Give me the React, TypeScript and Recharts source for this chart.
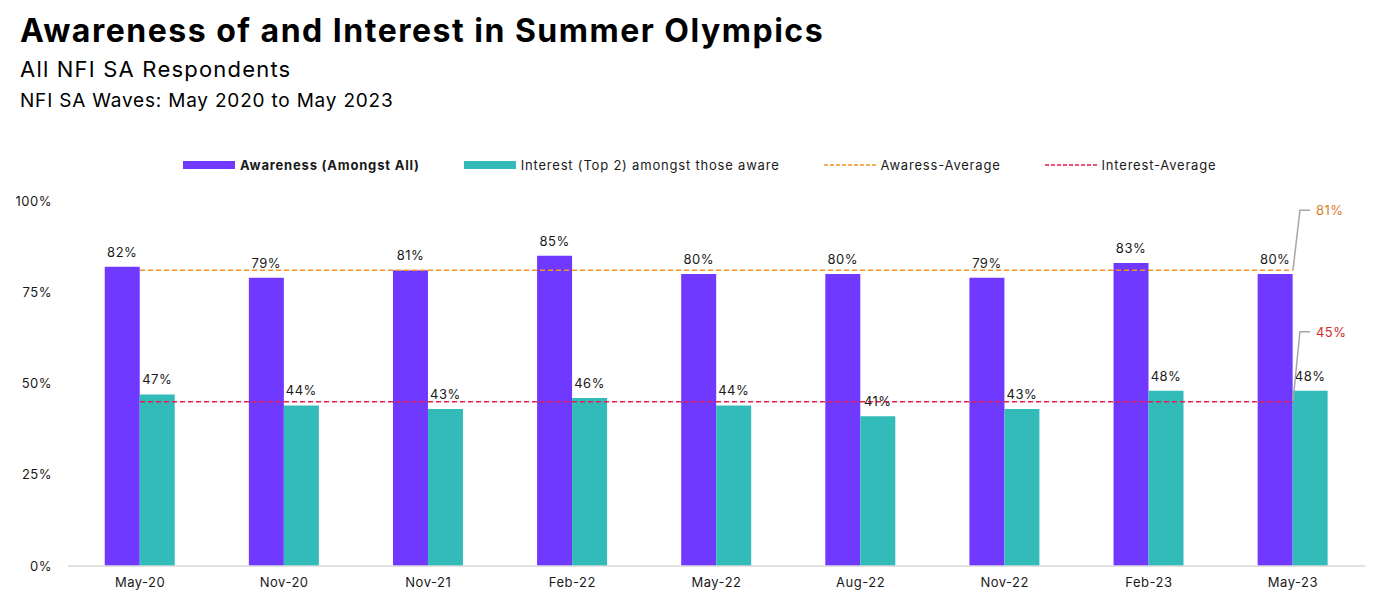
import { ComposedChart, Bar, Line, XAxis, YAxis, LabelList } from 'recharts';

const waves = ['May-20', 'Nov-20', 'Nov-21', 'Feb-22', 'May-22', 'Aug-22', 'Nov-22', 'Feb-23', 'May-23'];
const awareness = [82, 79, 81, 85, 80, 80, 79, 83, 80];
const interest = [47, 44, 43, 46, 44, 41, 43, 48, 48];
const awarenessAvg = 81;
const interestAvg = 45;
const yTicks = [0, 25, 50, 75, 100];

const colors = {
    purple: '#7039FF',
    teal: '#33BBB9',
    orange: '#F7941D',
    red: '#EE1A4F',
    orangeText: '#D9822B',
    redText: '#D42A2A',
    axis: '#D9D9D9',
    text: '#1a1a1a',
};

const font = 'Inter, "Noto Sans", sans-serif';
const tickStyle = { fill: colors.text, fontSize: 13, fontFamily: font, letterSpacing: 0.5 };

const data = waves.map((w, i) => ({
    wave: w,
    awareness: awareness[i],
    interest: interest[i],
    awarenessAvg,
    interestAvg,
}));

// leader line + value for the last point of an average line
const AvgLabel = (color: string, rise: number) => (props: any) => {
    const { x, y, index, value } = props;
    if (index !== data.length - 1) return null;
    const ex = x + 7;
    const ey = y - rise;
    return (
        <g>
            <polyline points={`${x},${y} ${ex},${ey} ${ex + 10},${ey}`} fill="none" stroke="#A6A6A6" strokeWidth={1.5} />
            <text x={ex + 16} y={ey} dy={5} fill={color} fontSize={13} fontFamily={font} letterSpacing={0.5}>{value}%</text>
        </g>
    );
};

const legendItems = [
    { label: 'Awareness (Amongst All)', color: colors.purple, kind: 'rect', bold: true },
    { label: 'Interest (Top 2) amongst those aware', color: colors.teal, kind: 'rect', bold: false },
    { label: 'Awaress-Average', color: colors.orange, kind: 'dash', bold: false },
    { label: 'Interest-Average', color: colors.red, kind: 'dash', bold: false },
];

const Legend = () => (
    <div style={{ position: 'absolute', left: 183, top: 156, display: 'flex', alignItems: 'center', fontFamily: font, fontSize: 13, letterSpacing: 0.8, color: colors.text, whiteSpace: 'nowrap' }}>
        {legendItems.map((it) => (
            <div key={it.label} style={{ display: 'flex', alignItems: 'center', marginRight: 44 }}>
                <svg width={52} height={18} style={{ marginRight: 5 }}>
                    {it.kind === 'rect'
                        ? <rect x={0} y={5} width={52} height={8} fill={it.color} />
                        : <line x1={0} y1={9} x2={52} y2={9} stroke={it.color} strokeWidth={1.5} strokeDasharray="4 2" />}
                </svg>
                <span style={{ fontWeight: it.bold ? 700 : 400 }}>{it.label}</span>
            </div>
        ))}
    </div>
);

const App = () => {
    return (
        <div style={{ position: 'absolute', left: 0, top: 0, width: 1379, height: 610, background: '#fff', overflow: 'hidden' }}>
            <div style={{ position: 'absolute', left: 20, top: 11, fontFamily: font, color: '#000', whiteSpace: 'nowrap' }}>
                <div style={{ fontSize: 32, fontWeight: 700, lineHeight: '40px', letterSpacing: 1.5 }}>Awareness of and Interest in Summer Olympics</div>
                <div style={{ fontSize: 22, lineHeight: '30px', marginTop: 3, letterSpacing: 1.2 }}>All NFI SA Respondents</div>
                <div style={{ fontSize: 19, lineHeight: '28px', marginTop: 3, letterSpacing: 0.8 }}>NFI SA Waves: May 2020 to May 2023</div>
            </div>
            <Legend />
            <div style={{ position: 'absolute', left: 0, top: 190 }}>
                <ComposedChart width={1379} height={410} data={data} margin={{ top: 11, right: 14, bottom: 4, left: 0 }} barGap={0} barCategoryGap="25.5%">
                    <XAxis dataKey="wave" tickLine={false} stroke={colors.axis} strokeWidth={1.5}
                        tick={tickStyle} tickMargin={6} height={30} />
                    <YAxis domain={[0, 100]} ticks={yTicks} axisLine={false} tickLine={false} width={68} tickMargin={10}
                        tickFormatter={(v: number) => `${v}%`} tick={tickStyle} />
                    <Bar dataKey="awareness" fill={colors.purple} isAnimationActive={false}>
                        <LabelList dataKey="awareness" position="top" offset={10} formatter={(v: any) => `${v}%`}
                            style={tickStyle} />
                    </Bar>
                    <Bar dataKey="interest" fill={colors.teal} isAnimationActive={false}>
                        <LabelList dataKey="interest" position="top" offset={10} formatter={(v: any) => `${v}%`}
                            style={tickStyle} />
                    </Bar>
                    <Line dataKey="awarenessAvg" stroke={colors.orange} strokeWidth={1.5} strokeDasharray="5 3" dot={false} activeDot={false} isAnimationActive={false}>
                        <LabelList dataKey="awarenessAvg" content={AvgLabel(colors.orangeText, 60)} />
                    </Line>
                    <Line dataKey="interestAvg" stroke={colors.red} strokeWidth={1.5} strokeDasharray="5 3" dot={false} activeDot={false} isAnimationActive={false}>
                        <LabelList dataKey="interestAvg" content={AvgLabel(colors.redText, 70)} />
                    </Line>
                </ComposedChart>
            </div>
        </div>
    );
};

export default App;
